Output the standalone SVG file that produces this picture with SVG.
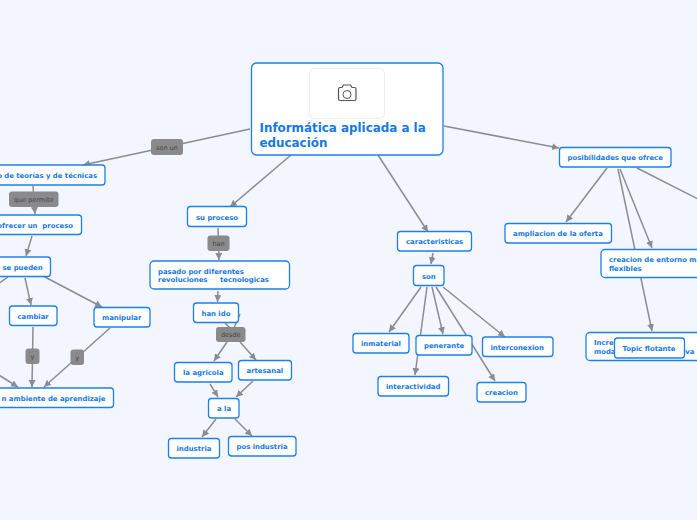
<svg xmlns="http://www.w3.org/2000/svg" width="697" height="520" viewBox="0 0 697 520">
<style>
text{font-family:"DejaVu Sans",Verdana,sans-serif}
.n{fill:#fff;stroke:#1c80ea;stroke-width:1.3}
.t{font-size:6.9px;font-weight:700;fill:#1479e4}
.l{fill:#8a8a8c}
.lt{font-size:6.5px;fill:#444;text-anchor:middle}
#connectors line,#connectors path{stroke:#8c8c90;stroke-width:1.5;fill:none}
.a{marker-end:url(#arrow)}
</style>
<defs><marker id="arrow" markerUnits="userSpaceOnUse" markerWidth="8" markerHeight="8" refX="7" refY="3.5" orient="auto"><path d="M0 0L7 3.5L0 7Z" fill="#8c8c90"/></marker></defs>
<rect width="697" height="520" fill="#f3f6ff"/>
<g id="connectors">
<line class="a" x1="250" y1="129" x2="83" y2="165"/>
<line class="a" x1="291" y1="155" x2="230" y2="207"/>
<line class="a" x1="378" y1="155" x2="428" y2="232"/>
<line class="a" x1="444" y1="126" x2="559" y2="148"/>
<line class="a" x1="33" y1="186" x2="35" y2="214"/>
<line class="a" x1="32" y1="236" x2="26" y2="256"/>
<line class="a" x1="25" y1="278" x2="31" y2="305"/>
<line class="a" x1="43" y1="276" x2="102" y2="307"/>
<line x1="8" y1="277" x2="-12" y2="291"/>
<line class="a" x1="33" y1="327" x2="32" y2="387"/>
<line class="a" x1="110" y1="328" x2="44" y2="387"/>
<line class="a" x1="-6" y1="372" x2="18" y2="387"/>
<line class="a" x1="218" y1="228" x2="219" y2="260"/>
<line class="a" x1="218" y1="291" x2="217.500" y2="302"/>
<line x1="225" y1="323" x2="230" y2="328"/>
<line x1="240" y1="314" x2="234" y2="328"/>
<line class="a" x1="227" y1="342" x2="214" y2="361"/>
<line class="a" x1="240" y1="342" x2="256" y2="360"/>
<line class="a" x1="210" y1="384" x2="218" y2="397"/>
<line class="a" x1="253" y1="381" x2="236" y2="397"/>
<line class="a" x1="216" y1="419" x2="202" y2="437"/>
<line class="a" x1="235" y1="419" x2="252" y2="436"/>
<line class="a" x1="433" y1="253" x2="431" y2="264"/>
<line class="a" x1="421" y1="287" x2="389" y2="332"/>
<line class="a" x1="427" y1="287" x2="415" y2="375"/>
<line class="a" x1="432" y1="287" x2="443" y2="334"/>
<line class="a" x1="436" y1="287" x2="495" y2="381"/>
<line class="a" x1="443" y1="287" x2="505" y2="337"/>
<line class="a" x1="607" y1="168" x2="566" y2="222"/>
<line class="a" x1="620" y1="169" x2="652" y2="248"/>
<line class="a" x1="618" y1="169" x2="652" y2="331"/>
<line x1="637" y1="168" x2="700" y2="200"/>
</g>
<g id="root"><rect class="n" x="251.500" y="63" width="191.500" height="92" rx="5"/>
<rect x="309.500" y="68.500" width="75" height="50" rx="5" fill="#fff" stroke="#eeeeee"/>
<path d="M339.500 87.500h2.500l1.500-2.500h7l1.500 2.500h2.500a1.500 1.500 0 0 1 1.500 1.500v10a1.500 1.500 0 0 1-1.500 1.500h-14.500a1.500 1.500 0 0 1-1.500-1.500v-10a1.500 1.500 0 0 1 1.500-1.500z" fill="none" stroke="#555" stroke-width="1.200"/>
<circle cx="347" cy="94.500" r="4" fill="none" stroke="#555" stroke-width="1"/>
<text x="259.500" y="132" font-size="11.900px" font-weight="700" fill="#1479e4">Informática aplicada a la</text>
<text x="259.500" y="147" font-size="11.900px" font-weight="700" fill="#1479e4">educación</text></g>
<g id="n1"><rect class="n" x="-30" y="165" width="135" height="20" rx="3"/><text class="t" x="97" y="177.500" text-anchor="end">o de teorías y de técnicas</text></g>
<g id="n2"><rect class="n" x="-30" y="215" width="111.500" height="19.500" rx="3"/><text class="t" x="73" y="227.500" text-anchor="end" xml:space="preserve">ofrecer un  proceso</text></g>
<g id="n3"><rect class="n" x="-30" y="257" width="80.500" height="19.500" rx="3"/><text class="t" x="2.500" y="269.500">se pueden</text></g>
<g id="n4"><rect class="n" x="9.500" y="306" width="47.500" height="19.500" rx="3"/><text class="t" x="17.500" y="318.500">cambiar</text></g>
<g id="n5"><rect class="n" x="94" y="307.500" width="56" height="19.500" rx="3"/><text class="t" x="102" y="320">manipular</text></g>
<g id="n6"><rect class="n" x="-30" y="388" width="143.500" height="19.500" rx="3"/><text class="t" x="105.500" y="400.500" text-anchor="end">n ambiente de aprendizaje</text></g>
<g id="n7"><rect class="n" x="187.500" y="206.500" width="59" height="20" rx="3"/><text class="t" x="196" y="219.500">su proceso</text></g>
<g id="n8"><rect class="n" x="150" y="261" width="139.500" height="28" rx="4"/><text class="t" x="158" y="274">pasado por diferentes</text><text class="t" y="282"><tspan x="158">revoluciones</tspan><tspan x="220">tecnologicas</tspan></text></g>
<g id="n9"><rect class="n" x="193.500" y="303" width="45" height="19.500" rx="3"/><text class="t" x="201.500" y="315.500">han ido</text></g>
<g id="n10"><rect class="n" x="174.500" y="362.500" width="57.500" height="19.500" rx="3"/><text class="t" x="183" y="375">la agricola</text></g>
<g id="n11"><rect class="n" x="238.500" y="360.500" width="53" height="19.500" rx="3"/><text class="t" x="246.500" y="373">artesanal</text></g>
<g id="n12"><rect class="n" x="208.500" y="398.500" width="30.500" height="19.500" rx="3"/><text class="t" x="217" y="411">a la</text></g>
<g id="n13"><rect class="n" x="168.500" y="438.500" width="51" height="19.500" rx="3"/><text class="t" x="176.500" y="451">industria</text></g>
<g id="n14"><rect class="n" x="228.500" y="436.500" width="67.500" height="19.500" rx="3"/><text class="t" x="236.500" y="449">pos industria</text></g>
<g id="n15"><rect class="n" x="397.500" y="231.500" width="74" height="19.500" rx="3"/><text class="t" x="406" y="244">caracteristicas</text></g>
<g id="n16"><rect class="n" x="413.500" y="265.500" width="30.500" height="20" rx="3"/><text class="t" x="422" y="278.500">son</text></g>
<g id="n17"><rect class="n" x="353" y="333.500" width="56" height="19.500" rx="3"/><text class="t" x="361" y="346">inmaterial</text></g>
<g id="n18"><rect class="n" x="416" y="335.500" width="56" height="19.500" rx="3"/><text class="t" x="424" y="348">penerante</text></g>
<g id="n19"><rect class="n" x="482.500" y="337" width="70.500" height="19.500" rx="3"/><text class="t" x="490.500" y="349.500">interconexion</text></g>
<g id="n20"><rect class="n" x="378" y="376.500" width="70.500" height="19.500" rx="3"/><text class="t" x="386" y="389">interactividad</text></g>
<g id="n21"><rect class="n" x="477" y="382.500" width="49" height="19.500" rx="3"/><text class="t" x="485" y="395">creacion</text></g>
<g id="n22"><rect class="n" x="559.500" y="147.500" width="111.500" height="19.500" rx="3"/><text class="t" x="567.500" y="160">posibilidades que ofrece</text></g>
<g id="n23"><rect class="n" x="505" y="223.500" width="106.500" height="19.500" rx="3"/><text class="t" x="513" y="236">ampliacion de la oferta</text></g>
<g id="n24"><rect class="n" x="601" y="249.500" width="130" height="28" rx="4"/><text class="t" x="609" y="262">creacion de entorno más</text><text class="t" x="609" y="271">flexibles</text></g>
<g id="n25"><rect class="n" x="586" y="332.500" width="130" height="28" rx="4"/><text class="t" x="594" y="345">Incre</text><text class="t" x="594" y="354">moda</text><text class="t" x="678" y="354">diva</text></g>
<g id="n26"><rect class="n" x="614.500" y="338" width="70" height="20" rx="3"/><text class="t" x="622.500" y="351">Topic flotante</text></g>
<g id="labels">
<rect class="l" x="151" y="139" width="32" height="16" rx="3"/><text class="lt" x="167" y="149.500">son un</text>
<rect class="l" x="9" y="191.500" width="49.500" height="15.500" rx="3"/><text class="lt" x="33.700" y="201.500">que permite</text>
<rect class="l" x="207.500" y="235.500" width="22" height="15.500" rx="3"/><text class="lt" x="218.500" y="245.500">han</text>
<rect class="l" x="25.500" y="348.500" width="14" height="15.500" rx="3"/><text class="lt" x="32.500" y="358.500">y</text>
<rect class="l" x="70.500" y="349.500" width="13.500" height="15.500" rx="3"/><text class="lt" x="77.200" y="359.500">y</text>
<rect class="l" x="216" y="327" width="29.500" height="15" rx="3"/><text class="lt" x="230.700" y="337">desde</text>
</g>
</svg>
